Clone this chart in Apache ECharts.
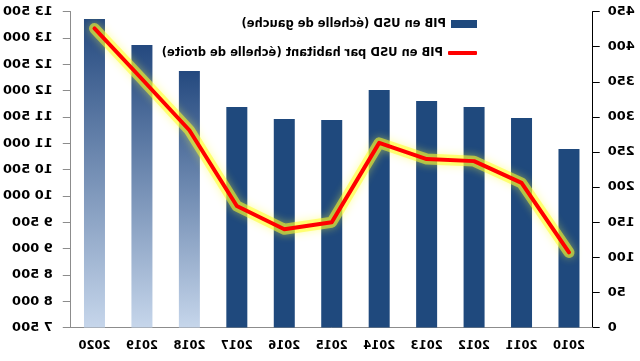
<!DOCTYPE html>
<html>
<head>
<meta charset="utf-8">
<script src="https://cdn.jsdelivr.net/npm/echarts@6/dist/echarts.min.js"></script>
<style>
html,body{margin:0;padding:0;background:#fff;}
#c{width:640px;height:361px;transform:scaleX(-1);}
</style>
</head>
<body>
<div id="c"></div>
<script>
var years = ['2010','2011','2012','2013','2014','2015','2016','2017','2018','2019','2020'];
var pibUSD = [10890, 11480, 11690, 11800, 12010, 11440, 11460, 11690, 12370, 12865, 13360];
var pibParHabitant = [107, 206, 237, 240, 263, 150, 140, 173, 281, 354, 426];
var gradientYears = ['2018','2019','2020'];
var seriesNames = ['PIB en USD (échelle de gauche)', 'PIB en USD par habitant (échelle de droite)'];

var FONT = 'DejaVu Sans';
function fmt(v){ return String(v).replace(/\B(?=(\d{3})+(?!\d))/g, ' '); }

var darkBlue = '#1F497D';
var barData = years.map(function(y, i){
  var item = {value: pibUSD[i]};
  if (gradientYears.indexOf(y) >= 0) {
    item.itemStyle = {color: new echarts.graphic.LinearGradient(0,0,0,1,[
      {offset:0, color:'#24497f'},
      {offset:1, color:'#c6d6eb'}
    ])};
  }
  return item;
});

var legendText = {fontFamily:FONT, fontWeight:'bold', fontSize:11.5, color:'#000'};

var chart = echarts.init(document.getElementById('c'), null, {renderer:'canvas'});
chart.setOption({
  animation:false,
  backgroundColor:'#ffffff',
  textStyle:{fontFamily:FONT},
  legend:[
    {
      left:158, top:13, itemWidth:26, itemHeight:8,
      textStyle:legendText,
      data:[{name:seriesNames[0], icon:'rect'}]
    },
    {
      left:158, top:42, itemWidth:29, itemHeight:4,
      textStyle:legendText,
      data:[{name:seriesNames[1], icon:'roundRect'}]
    }
  ],
  grid:{left:47.3, right:70.7, top:11.6, bottom:33.5, containLabel:false},
  xAxis:{
    type:'category', data:years,
    axisLine:{lineStyle:{color:'#8c8c8c', width:1}},
    axisTick:{show:false},
    axisLabel:{fontFamily:FONT, fontWeight:'bold', fontSize:11.5, color:'#000', margin:13}
  },
  yAxis:[
    {
      type:'value', position:'right', min:7500, max:13500, interval:500,
      axisLine:{show:true, lineStyle:{color:'#8c8c8c'}},
      axisTick:{show:true, length:8, lineStyle:{color:'#8c8c8c'}},
      splitLine:{show:false},
      axisLabel:{fontFamily:FONT, fontWeight:'bold', fontSize:13, color:'#000', margin:18, formatter:fmt}
    },
    {
      type:'value', position:'left', min:0, max:450, interval:50,
      axisLine:{show:true, lineStyle:{color:'#000'}},
      axisTick:{show:true, length:7, lineStyle:{color:'#000'}},
      splitLine:{show:false},
      axisLabel:{fontFamily:FONT, fontWeight:'bold', fontSize:13, color:'#000', margin:15, formatter:fmt}
    }
  ],
  series:[
    {
      name:seriesNames[0], type:'bar', yAxisIndex:0, barWidth:21,
      itemStyle:{color:darkBlue},
      data:barData
    },
    {
      name:'glow', type:'line', yAxisIndex:1, showSymbol:false, symbol:'none', silent:true, z:3,
      lineStyle:{color:'rgba(255,255,40,0.55)', width:11, cap:'round', join:'round',
                 shadowColor:'rgba(255,255,60,0.8)', shadowBlur:8},
      data:pibParHabitant
    },
    {
      name:seriesNames[1], type:'line', yAxisIndex:1, showSymbol:false, symbol:'none', z:4,
      lineStyle:{color:'#ff0000', width:4, cap:'round', join:'round'},
      itemStyle:{color:'#ff0000'},
      data:pibParHabitant
    }
  ]
});
</script>
</body>
</html>
